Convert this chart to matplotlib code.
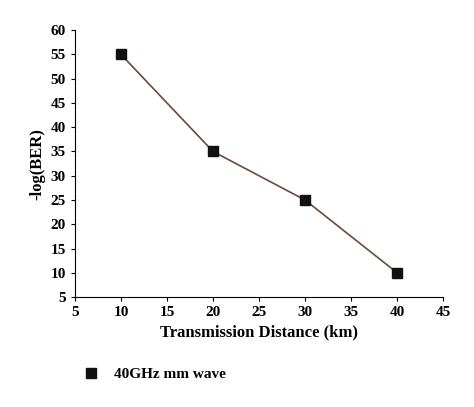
import matplotlib.pyplot as plt
from matplotlib.lines import Line2D

distance = [10, 20, 30, 40]
neg_log_ber = [55, 35, 25, 10]
series_name = "40GHz mm wave"

plt.rcParams['font.family'] = ['Liberation Serif', 'DejaVu Serif']
plt.rcParams['font.weight'] = 'bold'

fig = plt.figure(figsize=(4.74, 4.07), dpi=100)
ax = fig.add_axes([0.158, 0.27, 0.777, 0.656])
ax.plot(distance, neg_log_ber, color='#6b4a3a', lw=1.2,
        marker='s', ms=7, mfc='#111111', mec='#111111')
ax.set_xlim(5, 45)
ax.set_ylim(5, 60)
ax.set_xticks(range(5, 46, 5))
ax.set_yticks(range(5, 61, 5))
ax.spines['top'].set_visible(False)
ax.spines['right'].set_visible(False)
ax.tick_params(labelsize=11, direction='out', length=3)
ax.set_xlabel('Transmission Distance (km)', fontsize=12, fontweight='bold')
ax.set_ylabel('-log(BER)', fontsize=12, fontweight='bold')

handle = Line2D([], [], ls='none', marker='s', ms=7, color='#111111')
fig.legend([handle], [series_name], loc='lower left', bbox_to_anchor=(0.13, 0.03),
           frameon=False, fontsize=11, handletextpad=0.5)

fig.savefig('out.png', dpi=100)
